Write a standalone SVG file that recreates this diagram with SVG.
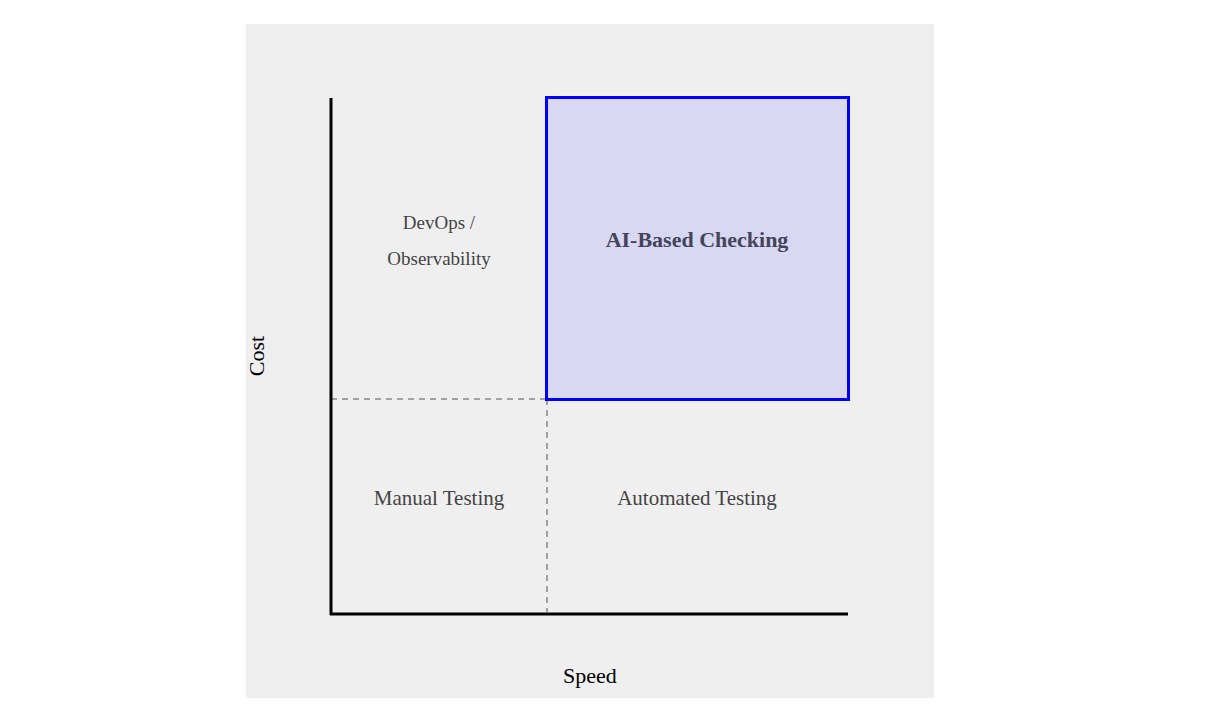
<svg xmlns="http://www.w3.org/2000/svg" width="1214" height="720" viewBox="0 0 1214 720">
<style>
text{font-family:"Liberation Serif",serif;text-anchor:middle}
.q{fill:#444;font-size:21px}
.ax{stroke:#000;stroke-width:3}
.d{stroke:#888;stroke-width:1.5;stroke-dasharray:6,5}
</style>
<rect x="0" y="0" width="1214" height="720" fill="#fff"/>
<rect x="246" y="24" width="688" height="674" fill="#efefef"/>
<g id="connectors">
<line class="d" x1="331" y1="399" x2="546" y2="399"/>
<line class="d" x1="547" y1="399" x2="547" y2="612"/>
<line class="ax" x1="331" y1="98" x2="331" y2="615"/>
<line class="ax" x1="330" y1="614" x2="848" y2="614"/>
</g>
<g id="ai"><rect x="546.5" y="97.5" width="302" height="302" fill="#d8d8f2" stroke="#0000ff" stroke-width="3"/>
<text x="697" y="247" font-size="22" font-weight="bold" fill="#44445a">AI-Based Checking</text></g>
<g id="devops"><text class="q" x="439" y="229" font-size="19" style="font-size:19px">DevOps /</text><text class="q" x="439" y="265" style="font-size:19px">Observability</text></g>
<g id="manual"><text class="q" x="439" y="505">Manual Testing</text></g>
<g id="auto"><text class="q" x="697" y="505">Automated Testing</text></g>
<text x="590" y="683" font-size="22" fill="#000">Speed</text>
<text x="0" y="0" font-size="22" fill="#000" transform="translate(264,356) rotate(-90)">Cost</text>
</svg>
